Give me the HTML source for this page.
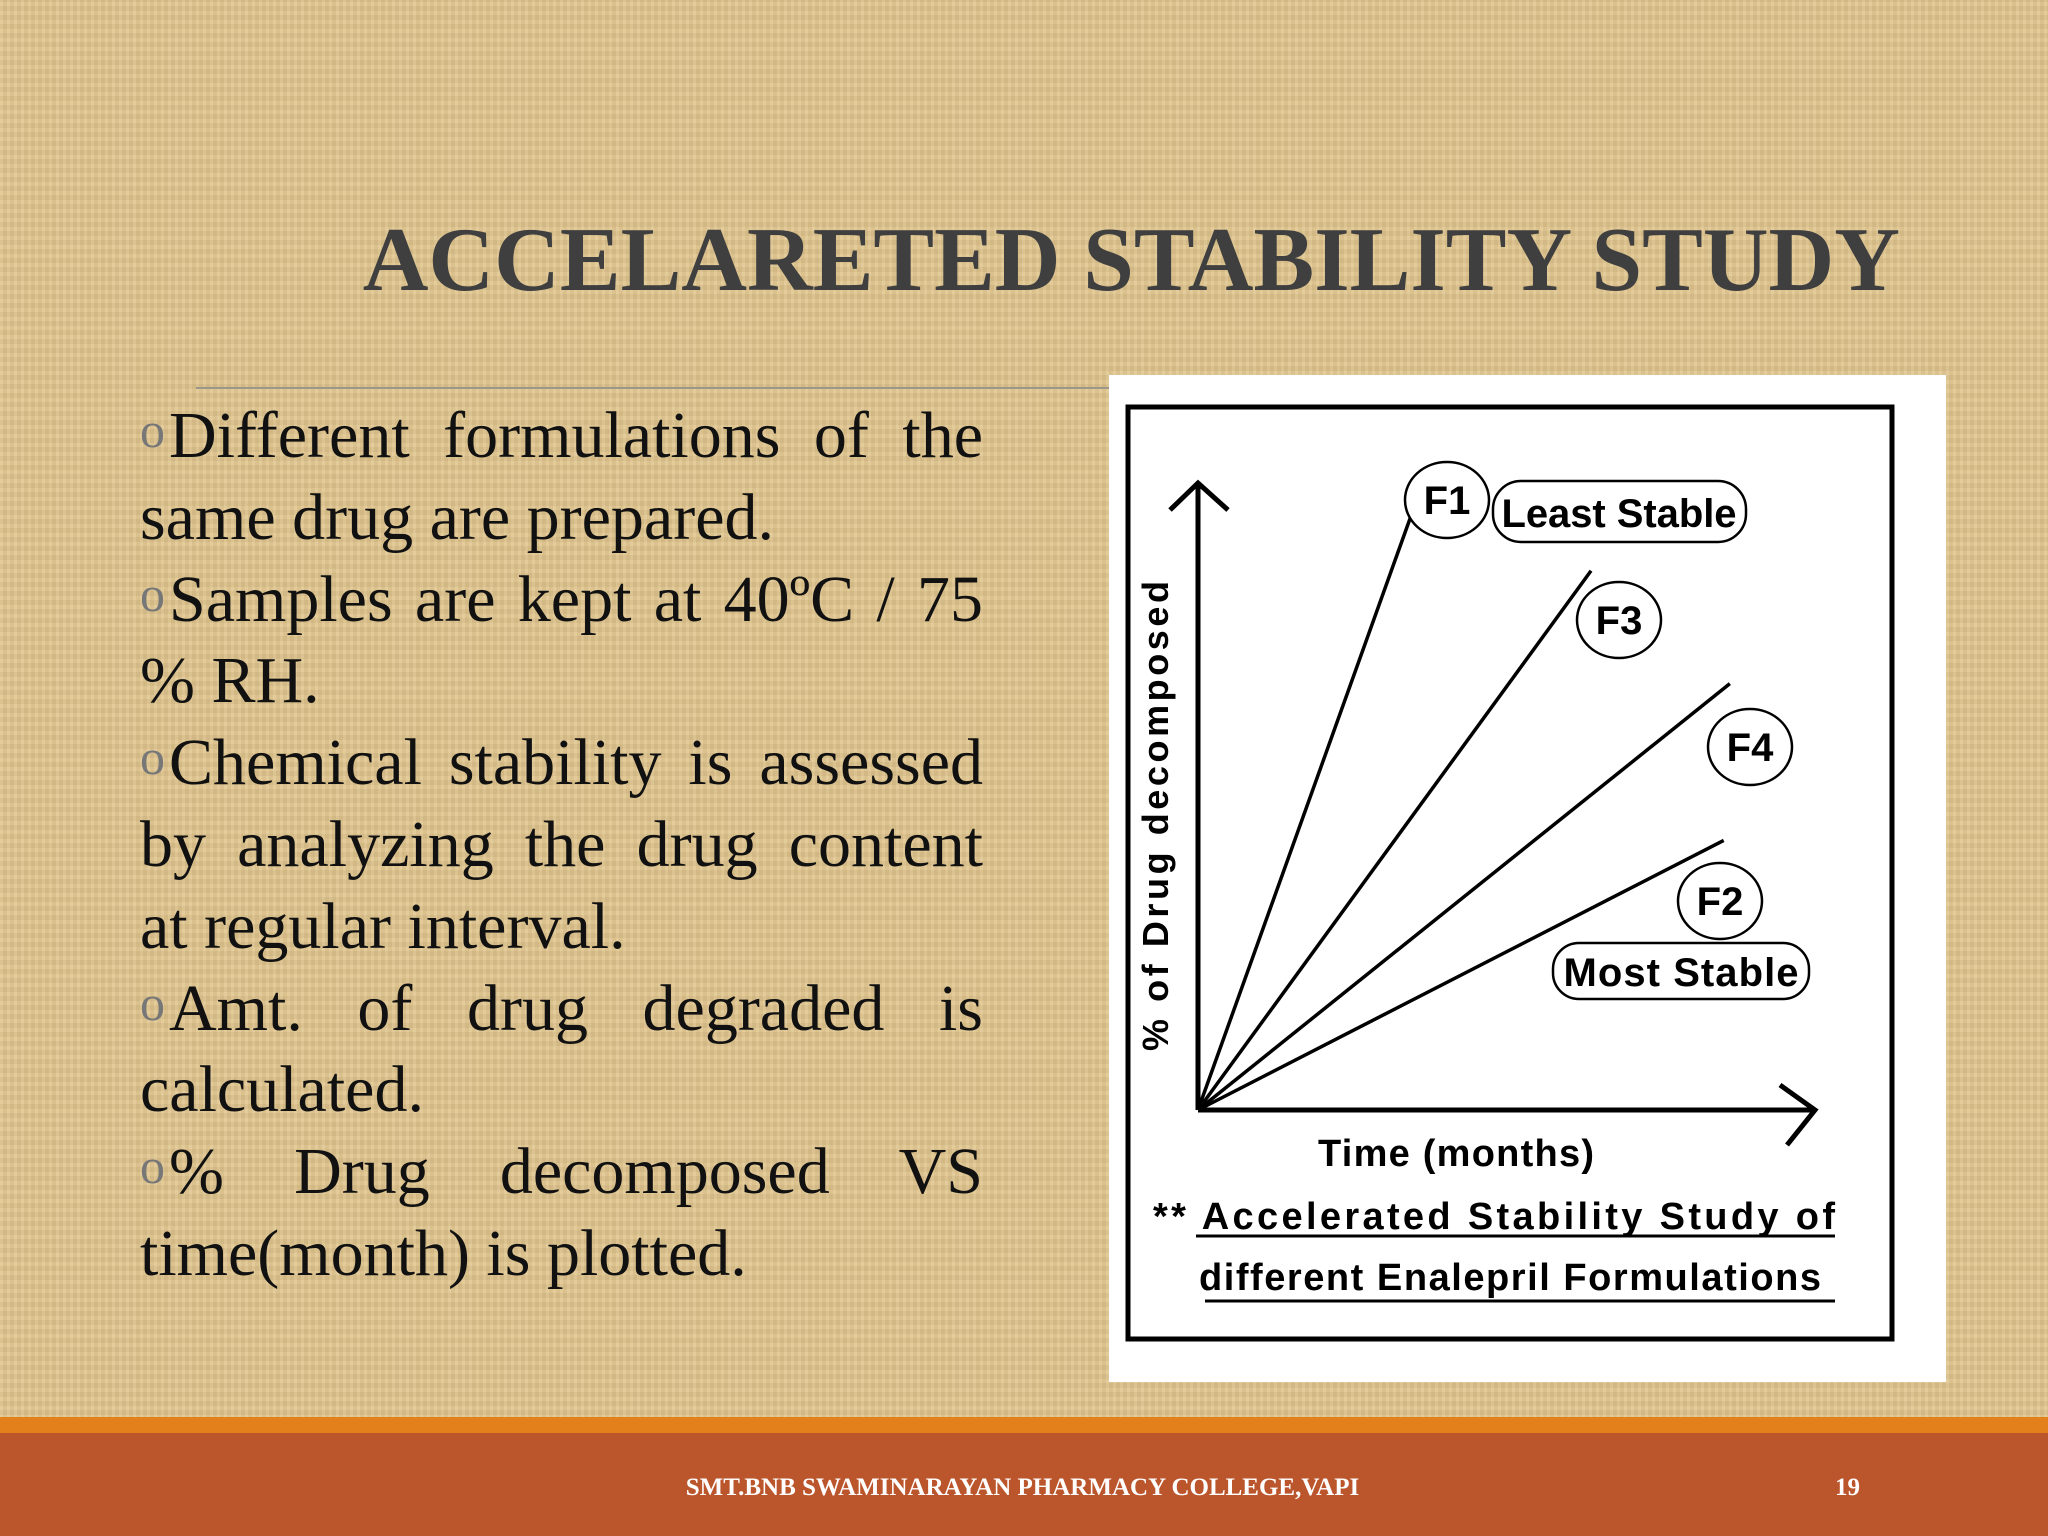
<!DOCTYPE html>
<html><head><meta charset="utf-8"><style>
html,body{margin:0;padding:0}
body{width:2048px;height:1536px;position:relative;overflow:hidden;background:#dfc48c;
background-image:repeating-linear-gradient(90deg,rgba(255,255,255,0.07) 0 3px,rgba(0,0,0,0.03) 3px 7px),repeating-linear-gradient(0deg,rgba(255,255,255,0.06) 0 4px,rgba(0,0,0,0.03) 4px 9px);font-family:"Liberation Serif",serif}
.title{position:absolute;left:360px;top:210px;width:1540px;text-align:right;font-size:91px;font-weight:bold;color:#3f3f3f;line-height:100px;white-space:nowrap}
.rule{position:absolute;left:196px;top:387px;width:915px;height:2px;background:#9c9788}
.text{position:absolute;left:140px;top:395px;width:843px;font-size:66px;line-height:81.8px;color:#111;text-align:justify}
.text p{margin:0}
.b{color:#777;font-size:50px;line-height:0;vertical-align:10px;margin-right:4px}
.stripe{position:absolute;left:0;top:1417px;width:2048px;height:16px;background:#e4801c}
.footer{position:absolute;left:0;top:1433px;width:2048px;height:103px;background:#bb552c}
.ft{position:absolute;top:1474px;font-size:24px;font-weight:bold;color:#fff;white-space:nowrap}
</style></head><body>
<div class="title">ACCELARETED STABILITY STUDY</div>
<div class="rule"></div>
<div class="text">
<p><span class="b">o</span>Different formulations of the same drug are prepared.</p>
<p><span class="b">o</span>Samples are kept at 40ºC / 75 % RH.</p>
<p><span class="b">o</span>Chemical stability is assessed by analyzing the drug content at regular interval.</p>
<p><span class="b">o</span>Amt. of drug degraded is calculated.</p>
<p><span class="b">o</span>% Drug decomposed VS time(month) is plotted.</p>
</div>
<svg id="chart" style="position:absolute;left:0;top:0" width="2048" height="1536" font-family="Liberation Sans, sans-serif" font-weight="bold">
<rect x="1109" y="375" width="837" height="1007" fill="#fff"/>
<rect x="1128" y="407" width="764" height="932" fill="none" stroke="#000" stroke-width="5"/>
<g id="marks"></g>
</svg>
<div class="stripe"></div>
<div class="footer"></div>
<div class="ft" style="left:560px;width:925px;text-align:center;font-size:25px">SMT.BNB SWAMINARAYAN PHARMACY COLLEGE,VAPI</div>
<div class="ft" style="left:1835px;font-size:25px">19</div>
<script>
const series=["F1","F3","F4","F2"];
const endTime=[3.45,6.37,8.62,8.52];
const endPct=[94.7,86,68,43];
const NS="http://www.w3.org/2000/svg";
const ox=1198,oy=1110;
function xs(t){return ox+t*61.7}
function ys(p){return oy-p*6.27}
const g=document.getElementById('marks');
function mk(tag,at,txt){const e=document.createElementNS(NS,tag);for(const k in at)e.setAttribute(k,at[k]);if(txt)e.textContent=txt;g.appendChild(e);return e}
let e;
e=mk('path',{d:`M${ox} ${oy} V483 M1170 510 L${ox} 483 L1228 510`,stroke:'#000','stroke-width':5,fill:'none'});


e=mk('path',{d:`M${ox} ${oy} H1815 M1780 1085 L1815 1110 L1787 1145`,stroke:'#000','stroke-width':5,fill:'none'});


for(let i=0;i<series.length;i++){
 e=mk('line',{x1:ox,y1:oy,x2:xs(endTime[i]),y2:ys(endPct[i]),stroke:'#000','stroke-width':3.5});
 
 
}
const labs=[["F1",1447,500],["F3",1619,620],["F4",1750,747],["F2",1720,901]];
labs.forEach(l=>{
 e=mk('ellipse',{cx:l[1],cy:l[2],rx:42,ry:38,fill:'#fff',stroke:'#000','stroke-width':2.5});
 
 
 e=mk('text',{x:l[1],y:l[2]+14,'text-anchor':'middle','font-size':40},l[0]);
 
 
});
e=mk('rect',{x:1493,y:481,width:253,height:61,rx:28,fill:'#fff',stroke:'#000','stroke-width':2.5});


e=mk('text',{x:1619,y:527,'text-anchor':'middle','font-size':40,textLength:235},'Least Stable');


e=mk('rect',{x:1553,y:943,width:256,height:56,rx:26,fill:'#fff',stroke:'#000','stroke-width':2.5});


e=mk('text',{x:1681,y:986,'text-anchor':'middle','font-size':40,textLength:235},'Most Stable');


e=mk('text',{x:1168,y:816,'text-anchor':'middle','font-size':36,transform:'rotate(-90 1168 816)',textLength:470},'% of Drug decomposed');


e=mk('text',{x:1456,y:1166,'text-anchor':'middle','font-size':38,textLength:276},'Time (months)');


e=mk('text',{x:1153,y:1229,'font-size':38,textLength:682},'** Accelerated  Stability  Study  of');


e=mk('text',{x:1199,y:1290,'font-size':38,textLength:622},'different Enalepril Formulations');


e=mk('path',{d:'M1196 1236 H1835 M1205 1301 H1835',stroke:'#000','stroke-width':3});


</script>
</body></html>
